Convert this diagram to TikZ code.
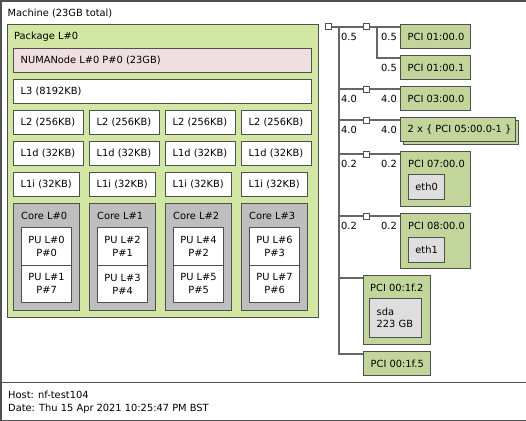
\documentclass[tikz,border=0pt]{standalone}
\usepackage{fontspec}
\setmainfont{DejaVu Sans}
\definecolor{edge}{HTML}{505050}
\definecolor{pkg}{RGB}{210,231,164}
\definecolor{numa}{RGB}{239,223,222}
\definecolor{corefill}{RGB}{190,190,190}
\definecolor{pcifill}{RGB}{194,214,155}
\definecolor{osdev}{RGB}{222,222,222}
\tikzset{
  obj/.style={draw=edge, line width=1.2pt, anchor=north west, inner sep=0pt, fill=white},
  cache/.style={obj, minimum width=70pt, minimum height=24pt},
  lname/.style={anchor=west, inner sep=0pt, xshift=7.5pt},
  cname/.style={anchor=west, inner sep=0pt, xshift=7pt, yshift=-13pt},
  bridge/.style={draw=edge, fill=white, line width=1pt, minimum size=6pt, inner sep=0pt},
  link/.style={draw=black!60, line width=1.3pt},
  speed/.style={anchor=west, inner sep=0pt},
}
\begin{document}
\begin{tikzpicture}[x=1pt, y=-1pt, every node/.style={font=\fontsize{9.85}{13}\selectfont}]
\useasboundingbox (0,0) rectangle (526,420);
% machine and legend
\node[obj, minimum width=525pt, minimum height=381.5pt, label={[cname]north west:{Machine (23GB total)}}] (machine) at (0.5,0.5) {};
\node[obj, minimum width=525pt, minimum height=37.5pt] (legend) at (0.5,382) {};
\node[speed] (host) at (8,395) {Host: nf-test104};
\node[speed] (date) at (8,409) {Date: Thu 15 Apr 2021 10:25:47 PM BST};
% package
\node[obj, fill=pkg, minimum width=311pt, minimum height=293pt, label={[cname]north west:{Package L\#0}}] (pkg) at (7,24) {};
\node[obj, fill=numa, minimum width=298pt, minimum height=24pt, label={[lname]west:{NUMANode L\#0 P\#0 (23GB)}}] (numa) at (13,48) {};
\node[obj, minimum width=298pt, minimum height=24pt, label={[lname]west:{L3 (8192KB)}}] (l3) at (13,79) {};
\node[cache, label={[lname]west:{L2 (256KB)}}] (l2a) at (13,110) {};
\node[cache, label={[lname]west:{L2 (256KB)}}] (l2b) at (89,110) {};
\node[cache, label={[lname]west:{L2 (256KB)}}] (l2c) at (165,110) {};
\node[cache, label={[lname]west:{L2 (256KB)}}] (l2d) at (241,110) {};
\node[cache, label={[lname]west:{L1d (32KB)}}] (l1da) at (13,141) {};
\node[cache, label={[lname]west:{L1d (32KB)}}] (l1db) at (89,141) {};
\node[cache, label={[lname]west:{L1d (32KB)}}] (l1dc) at (165,141) {};
\node[cache, label={[lname]west:{L1d (32KB)}}] (l1dd) at (241,141) {};
\node[cache, minimum width=66pt, label={[lname]west:{L1i (32KB)}}] (l1ia) at (13,172) {};
\node[cache, minimum width=66pt, label={[lname]west:{L1i (32KB)}}] (l1ib) at (89,172) {};
\node[cache, minimum width=66pt, label={[lname]west:{L1i (32KB)}}] (l1ic) at (165,172) {};
\node[cache, minimum width=66pt, label={[lname]west:{L1i (32KB)}}] (l1id) at (241,172) {};
% cores
\node[obj, fill=corefill, minimum width=66pt, minimum height=107pt, label={[cname, xshift=1pt]north west:{Core L\#0}}] (core0) at (13,203) {};
\node[obj, fill=corefill, minimum width=66pt, minimum height=107pt, label={[cname, xshift=1pt]north west:{Core L\#1}}] (core1) at (89,203) {};
\node[obj, fill=corefill, minimum width=66pt, minimum height=107pt, label={[cname, xshift=1pt]north west:{Core L\#2}}] (core2) at (165,203) {};
\node[obj, fill=corefill, minimum width=66pt, minimum height=107pt, label={[cname, xshift=1pt]north west:{Core L\#3}}] (core3) at (241,203) {};
\node[obj, minimum width=50pt, minimum height=37.5pt, align=center] (pu0) at (21,227) {PU L\#0\\P\#0};
\node[obj, minimum width=50pt, minimum height=37.5pt, align=center] (pu1) at (21,264.5) {PU L\#1\\P\#7};
\node[obj, minimum width=50pt, minimum height=37.5pt, align=center] (pu2) at (97,227) {PU L\#2\\P\#1};
\node[obj, minimum width=50pt, minimum height=37.5pt, align=center] (pu3) at (97,264.5) {PU L\#3\\P\#4};
\node[obj, minimum width=50pt, minimum height=37.5pt, align=center] (pu4) at (173,227) {PU L\#4\\P\#2};
\node[obj, minimum width=50pt, minimum height=37.5pt, align=center] (pu5) at (173,264.5) {PU L\#5\\P\#5};
\node[obj, minimum width=50pt, minimum height=37.5pt, align=center] (pu6) at (249,227) {PU L\#6\\P\#3};
\node[obj, minimum width=50pt, minimum height=37.5pt, align=center] (pu7) at (249,264.5) {PU L\#7\\P\#6};
% I/O tree
\coordinate (trunk) at (339,27);
\coordinate (split) at (377,27);
\node[bridge] (hb) at (328,27) {};
\node[bridge] (br1) at (366,27) {};
\node[bridge] (br2) at (366,89) {};
\node[bridge] (br3) at (366,120) {};
\node[bridge] (br4) at (366,154) {};
\node[bridge] (br5) at (366,216) {};
\node[cache, fill=pcifill, label={[lname]west:{PCI 01:00.0}}] (pci0100) at (400,24) {};
\node[cache, fill=pcifill, label={[lname]west:{PCI 01:00.1}}] (pci0101) at (400,55) {};
\node[cache, fill=pcifill, label={[lname]west:{PCI 03:00.0}}] (pci0300) at (400,86) {};
\node[cache, fill=pcifill, minimum width=115pt] (pci05back) at (403,120) {};
\node[cache, fill=pcifill, minimum width=115pt, label={[lname]west:{2 x \{ PCI 05:00.0-1 \}}}] (pci05) at (400,117) {};
\node[obj, fill=pcifill, minimum width=70pt, minimum height=55pt, label={[cname, xshift=1pt]north west:{PCI 07:00.0}}] (pci0700) at (400,151) {};
\node[obj, fill=osdev, minimum width=36pt, minimum height=25pt] (eth0) at (408,174) {eth0};
\node[obj, fill=pcifill, minimum width=70pt, minimum height=55pt, label={[cname, xshift=1pt]north west:{PCI 08:00.0}}] (pci0800) at (400,213) {};
\node[obj, fill=osdev, minimum width=36pt, minimum height=25pt] (eth1) at (408,237) {eth1};
\node[obj, fill=pcifill, minimum width=67pt, minimum height=69pt, label={[cname]north west:{PCI 00:1f.2}}] (pci1f2) at (363,275) {};
\node[obj, fill=osdev, minimum width=52pt, minimum height=39pt, label={[lname, align=left, font=\fontsize{9.85}{12.4}\selectfont]west:{sda\\223 GB}}] (sda) at (369,298) {};
\node[cache, fill=pcifill, minimum width=67pt, label={[lname]west:{PCI 00:1f.5}}] (pci1f5) at (363,351) {};
\draw[link] (hb) -- (br1);
\draw[link] (br1) -- (br1 -| pci0100.west);
\draw[link] (split) |- ([yshift=-3pt]pci0101.north west);
\draw[link] (trunk) |- (br2);
\draw[link] (br2) -- (br2 -| pci0300.west);
\draw[link] (trunk) |- (br3);
\draw[link] (br3) -- (br3 -| pci05.west);
\draw[link] (trunk) |- (br4);
\draw[link] (br4) -- (br4 -| pci0700.west);
\draw[link] (trunk) |- (br5);
\draw[link] (br5) -- (br5 -| pci0800.west);
\draw[link] (trunk) |- ([yshift=-3pt]pci1f2.north west);
\draw[link] (trunk) |- ([yshift=-3pt]pci1f5.north west);
\node[speed] (s0) at (341,37) {0.5};
\node[speed] (s1a) at (381,37) {0.5};
\node[speed] (s1b) at (381,68) {0.5};
\node[speed] (s2a) at (341,99) {4.0};
\node[speed] (s2b) at (381,99) {4.0};
\node[speed] (s3a) at (341,130) {4.0};
\node[speed] (s3b) at (381,130) {4.0};
\node[speed] (s4a) at (341,164) {0.2};
\node[speed] (s4b) at (381,164) {0.2};
\node[speed] (s5a) at (341,226) {0.2};
\node[speed] (s5b) at (381,226) {0.2};
\end{tikzpicture}
\end{document}
